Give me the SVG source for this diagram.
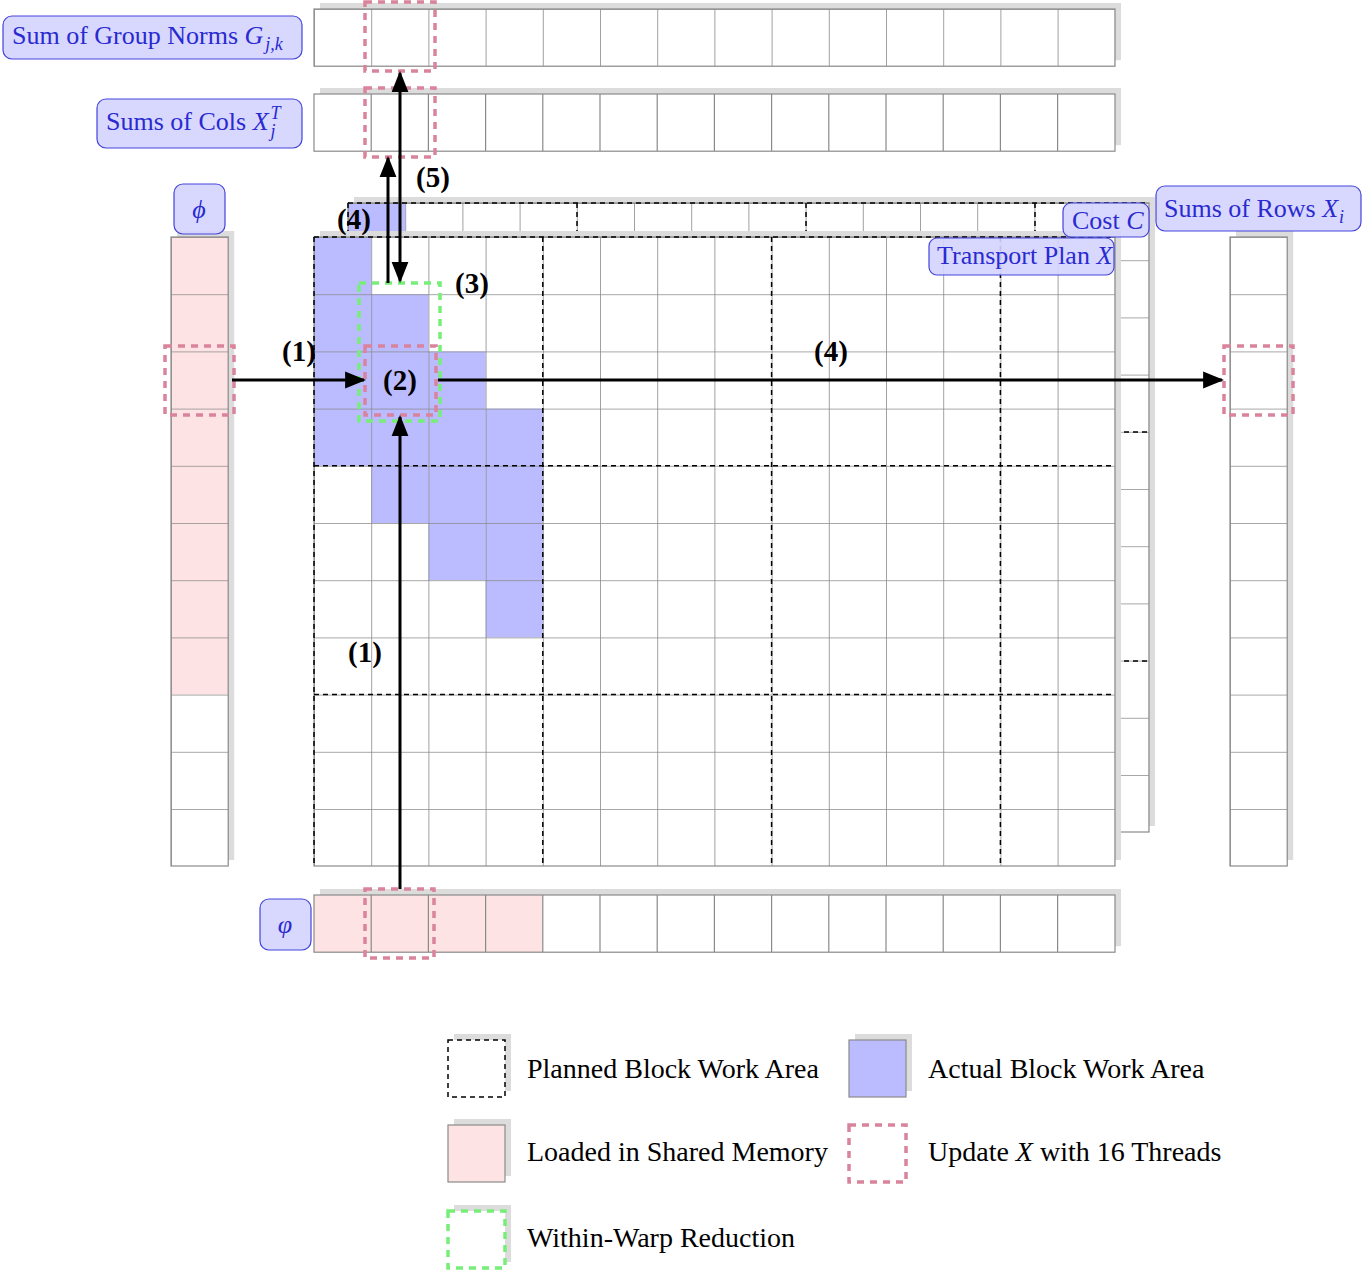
<svg xmlns="http://www.w3.org/2000/svg" width="1367" height="1271" viewBox="0 0 1367 1271">
<defs>
<pattern id="g" patternUnits="userSpaceOnUse" x="314" y="237" width="57.2" height="57.2"><path d="M0 0H57.2M0 0V57.2" stroke="#8a8a8a" stroke-width="1.6" fill="none"/></pattern>
<pattern id="gc" patternUnits="userSpaceOnUse" x="348" y="203" width="57.2" height="57.2"><path d="M0 0H57.2M0 0V57.2" stroke="#8a8a8a" stroke-width="1.6" fill="none"/></pattern>
<pattern id="gl" patternUnits="userSpaceOnUse" x="171" y="237" width="57.2" height="57.2"><path d="M0 0H57.2M0 0V57.2" stroke="#8a8a8a" stroke-width="1.6" fill="none"/></pattern>
<pattern id="gr" patternUnits="userSpaceOnUse" x="1230" y="237" width="57.2" height="57.2"><path d="M0 0H57.2M0 0V57.2" stroke="#8a8a8a" stroke-width="1.6" fill="none"/></pattern>
<pattern id="gh" patternUnits="userSpaceOnUse" x="314" y="9" width="57.2" height="57.2"><path d="M0 0H57.2M0 0V57.2" stroke="#8a8a8a" stroke-width="1.6" fill="none"/></pattern>
<marker id="ah" viewBox="0 0 10 10" refX="9" refY="5" markerWidth="7" markerHeight="7" orient="auto-start-reverse"><path d="M0 1L10 5L0 9z" fill="#000"/></marker>
</defs>
<style>
.sh{fill:#dcdcdc}
.bx{fill:none;stroke:#8a8a8a;stroke-width:1.2}
.dsh{fill:none;stroke:#000;stroke-width:1.5;stroke-dasharray:5 4}
.pk{fill:#fde3e3}
.bl{fill:#bbbbff}
.pd{fill:none;stroke:#d9849c;stroke-width:3.5;stroke-dasharray:7 6}
.gd{fill:none;stroke:#77ee77;stroke-width:3.5;stroke-dasharray:7 6}
.lb{fill:#d4d4ff;fill-opacity:0.9;stroke:#4444dd;stroke-width:1.2}
.lt{font-family:"Liberation Serif",serif;font-size:26px;fill:#2a2ad0}
.num{font-family:"Liberation Serif",serif;font-size:29px;font-weight:bold;fill:#000}
.lg{font-family:"Liberation Serif",serif;font-size:28px;fill:#000}
.ar{stroke:#000;stroke-width:3;fill:none}
</style>

<g id="cost">
<rect class="sh" x="354" y="197" width="801" height="629"/>
<rect x="348" y="203" width="801" height="629" fill="#fff"/>
<rect x="348" y="203" width="57.2" height="34" class="bl"/>
<rect x="348" y="203" width="801" height="629" fill="url(#gc)"/>
<rect x="348" y="203" width="801" height="629" class="bx"/>
<path class="dsh" d="M348 203H1149M577 203V237M806 203V237M1035 203V237M348 203V237M1115 432H1149M1115 661H1149"/>
</g>

<g id="transport">
<rect class="sh" x="320" y="231" width="801" height="629"/>
<rect x="314" y="237" width="801" height="629" fill="#fff"/>
<rect class="bl" x="314" y="237" width="57.2" height="228.8"/>
<rect class="bl" x="371.2" y="294.2" width="57.2" height="228.8"/>
<rect class="bl" x="428.4" y="351.4" width="57.2" height="228.8"/>
<rect class="bl" x="485.6" y="408.6" width="57.2" height="228.8"/>
<rect x="314" y="237" width="801" height="629" fill="url(#g)"/>
<rect x="314" y="237" width="801" height="629" class="bx"/>
<path class="dsh" d="M314 237H1115M314 237V866M542.8 237V866M771.6 237V866M1000.4 237V866M314 465.8H1115M314 694.6H1115"/>
</g>

<g id="phi-col">
<rect class="sh" x="177" y="231" width="57.2" height="629"/>
<rect x="171" y="237" width="57.2" height="629" fill="#fff"/>
<rect class="pk" x="171" y="237" width="57.2" height="457.6"/>
<rect x="171" y="237" width="57.2" height="629" fill="url(#gl)"/>
<rect x="171" y="237" width="57.2" height="629" class="bx"/>
</g>

<g id="rows-col">
<rect class="sh" x="1236" y="231" width="57.2" height="629"/>
<rect x="1230" y="237" width="57.2" height="629" fill="#fff"/>
<rect x="1230" y="237" width="57.2" height="629" fill="url(#gr)"/>
<rect x="1230" y="237" width="57.2" height="629" class="bx"/>
</g>

<g id="g-row">
<rect class="sh" x="320" y="3" width="801" height="57.2"/>
<rect x="314" y="9" width="801" height="57.2" fill="#fff"/>
<rect x="314" y="9" width="801" height="57.2" fill="url(#gh)"/>
<rect x="314" y="9" width="801" height="57.2" class="bx"/>
</g>
<g id="cols-row">
<rect class="sh" x="320" y="88" width="801" height="57.2"/>
<rect x="314" y="94" width="801" height="57.2" fill="#fff"/>
<path d="M371.2 94V151M428.4 94V151M485.6 94V151M542.8 94V151M600 94V151M657.2 94V151M714.4 94V151M771.6 94V151M828.8 94V151M886 94V151M943.2 94V151M1000.4 94V151M1057.6 94V151" stroke="#8a8a8a" stroke-width="1.2"/>
<rect x="314" y="94" width="801" height="57.2" class="bx"/>
</g>
<g id="varphi-row">
<rect class="sh" x="320" y="889" width="801" height="57.2"/>
<rect x="314" y="895" width="801" height="57.2" fill="#fff"/>
<rect class="pk" x="314" y="895" width="228.8" height="57.2"/>
<path d="M371.2 895V952M428.4 895V952M485.6 895V952M542.8 895V952M600 895V952M657.2 895V952M714.4 895V952M771.6 895V952M828.8 895V952M886 895V952M943.2 895V952M1000.4 895V952M1057.6 895V952" stroke="#8a8a8a" stroke-width="1.2"/>
<rect x="314" y="895" width="801" height="57.2" class="bx"/>
</g>

<g id="highlights">
<rect class="pd" x="365" y="2" width="70" height="69"/>
<rect class="pd" x="365" y="88" width="70" height="69"/>
<rect class="gd" x="359" y="283" width="81" height="138"/>
<rect class="pd" x="365" y="346" width="71" height="69"/>
<rect class="pd" x="165" y="346" width="69" height="69"/>
<rect class="pd" x="1224" y="346" width="69" height="69"/>
<rect class="pd" x="365" y="889" width="69" height="69"/>
</g>

<g id="connectors">
<line class="ar" x1="232" y1="380" x2="364" y2="380" marker-end="url(#ah)"/>
<line class="ar" x1="438" y1="380" x2="1222" y2="380" marker-end="url(#ah)"/>
<line class="ar" x1="400" y1="889" x2="400" y2="417" marker-end="url(#ah)"/>
<line class="ar" x1="400" y1="281" x2="400" y2="73" marker-start="url(#ah)" marker-end="url(#ah)"/>
<line class="ar" x1="388" y1="283" x2="388" y2="158" marker-end="url(#ah)"/>
</g>

<g id="steps">
<text class="num" x="299" y="361" text-anchor="middle">(1)</text>
<text class="num" x="400" y="390" text-anchor="middle">(2)</text>
<text class="num" x="472" y="293" text-anchor="middle">(3)</text>
<text class="num" x="354" y="229" text-anchor="middle">(4)</text>
<text class="num" x="831" y="361" text-anchor="middle">(4)</text>
<text class="num" x="433" y="187" text-anchor="middle">(5)</text>
<text class="num" x="365" y="662" text-anchor="middle">(1)</text>
</g>

<g id="label-g"><rect class="lb" x="3" y="16" width="299" height="43" rx="9"/>
<text class="lt" x="12" y="44">Sum of Group Norms <tspan font-style="italic">G</tspan><tspan font-style="italic" font-size="18" dx="2" dy="6">j,k</tspan></text></g>
<g id="label-cols"><rect class="lb" x="97" y="99" width="205" height="49" rx="9"/>
<text class="lt" x="106" y="130">Sums of Cols <tspan font-style="italic">X</tspan><tspan font-style="italic" font-size="18" dx="2" dy="-11">T</tspan><tspan font-style="italic" font-size="18" dx="-10" dy="18">j</tspan></text></g>
<g id="label-phi"><rect class="lb" x="174" y="184" width="51" height="50" rx="9"/>
<text class="lt" x="199" y="218" text-anchor="middle" font-style="italic">ϕ</text></g>
<g id="label-rows"><rect class="lb" x="1156" y="186" width="205" height="45" rx="9"/>
<text class="lt" x="1164" y="217">Sums of Rows <tspan font-style="italic">X</tspan><tspan font-style="italic" font-size="18" dx="1" dy="6">i</tspan></text></g>
<g id="label-cost"><rect class="lb" x="1063" y="203" width="86" height="34" rx="8"/>
<text class="lt" x="1072" y="229" font-size="24">Cost <tspan font-style="italic">C</tspan></text></g>
<g id="label-plan"><rect class="lb" x="929" y="238" width="185" height="37" rx="8"/>
<text class="lt" x="937" y="264" font-size="24">Transport Plan <tspan font-style="italic">X</tspan></text></g>
<g id="label-varphi"><rect class="lb" x="260" y="899" width="51" height="51" rx="9"/>
<text class="lt" x="285" y="933" text-anchor="middle" font-style="italic">φ</text></g>

<g id="legend">
<rect class="sh" x="454" y="1034" width="57" height="57"/>
<rect x="448" y="1040" width="57" height="57" fill="#fff"/>
<rect class="dsh" x="448" y="1040" width="57" height="57"/>
<text class="lg" x="527" y="1078">Planned Block Work Area</text>
<rect class="sh" x="855" y="1034" width="57" height="57"/>
<rect class="bl" x="849" y="1040" width="57" height="57" stroke="#8a8a8a" stroke-width="1.2"/>
<text class="lg" x="928" y="1078">Actual Block Work Area</text>
<rect class="sh" x="454" y="1119" width="57" height="57"/>
<rect class="pk" x="448" y="1125" width="57" height="57" stroke="#8a8a8a" stroke-width="1.2"/>
<text class="lg" x="527" y="1161">Loaded in Shared Memory</text>
<rect x="849" y="1125" width="57" height="57" fill="#fff"/>
<rect class="pd" x="849" y="1125" width="57" height="57"/>
<text class="lg" x="928" y="1161">Update <tspan font-style="italic">X</tspan> with 16 Threads</text>
<rect class="sh" x="454" y="1205" width="57" height="57"/>
<rect x="448" y="1211" width="57" height="57" fill="#fff"/>
<rect class="gd" x="448" y="1211" width="57" height="57"/>
<text class="lg" x="527" y="1247">Within-Warp Reduction</text>
</g>
</svg>
